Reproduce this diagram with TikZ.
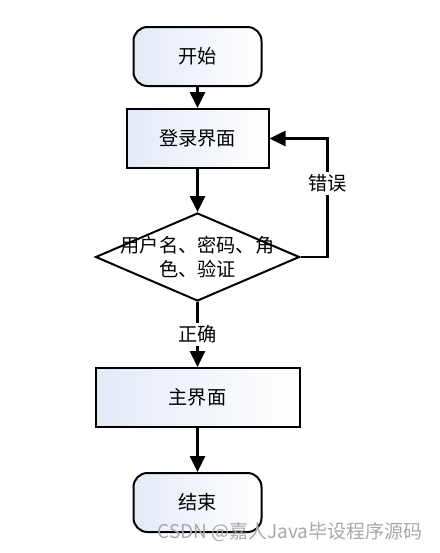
\documentclass[tikz,border=0pt]{standalone}
\usepackage{fontspec}
\setmainfont{Noto Sans CJK SC}
\usetikzlibrary{positioning,arrows.meta,shapes.geometric}
\definecolor{boxfill}{HTML}{E3EAF6}
\definecolor{markgray}{HTML}{A8A8A8}

\begin{document}
\begin{tikzpicture}[
  font=\fontsize{9.6pt}{11.7pt}\selectfont,
  terminal/.style={draw, line width=1pt, rounded corners=7pt, left color=boxfill, right color=white, minimum width=64pt, minimum height=29.5pt},
  process/.style={draw, line width=1pt, left color=boxfill, right color=white, minimum height=29.5pt},
  decision/.style={diamond, draw, line width=1pt, fill=white, inner sep=0pt, minimum width=102pt, minimum height=44pt},
  arrow/.style={-{Triangle[width=7.5pt,length=8pt]}, line width=1.3pt},
  tag/.style={fill=white, inner sep=1.5pt}
]
\useasboundingbox (0,0) rectangle (220pt,-276.5pt);
\node[terminal] (start) at (98.75pt,-28.25pt) {开始};
\node[process, minimum width=71pt, below=10.5pt of start] (login) {登录界面};
\node[decision, below=21.5pt of login] (check) {};
\node[align=center] (checktext) at (check.center) {用户名、密码、角\\色、验证};
\node[process, minimum width=102pt, below=32.5pt of check] (home) {主界面};
\node[terminal, below=22pt of home] (finish) {结束};
\coordinate[right=13.5pt of check.east] (back);

\draw[arrow] (start) -- (login);
\draw[arrow] (login) -- (check);
\draw[arrow] (check.east) -- (back) |- node[tag, pos=0.31] {错误} (login.east);
\draw[arrow] (check) -- node[tag] {正确} (home);
\draw[arrow] (home) -- (finish);

% watermark
\node[text=markgray, font=\fontsize{9.5pt}{11pt}\selectfont] (mark) at (145pt,-266pt) {CSDN @嘉人Java毕设程序源码};
\end{tikzpicture}
\end{document}
